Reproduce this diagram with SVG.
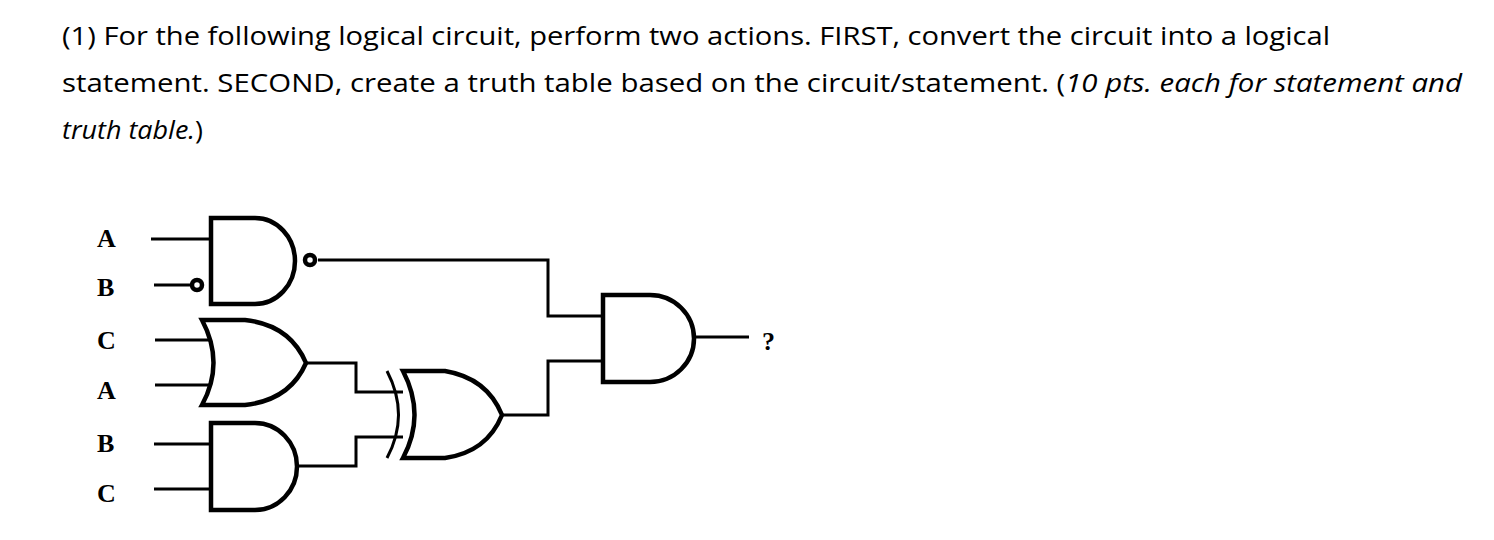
<svg xmlns="http://www.w3.org/2000/svg" width="1494" height="540" viewBox="0 0 1494 540">
<style>
.t{font-family:"Open Sans","Liberation Sans",sans-serif;font-size:25px;fill:#000}
.l{font-family:"Liberation Serif",serif;font-weight:bold;font-size:26px;fill:#000}
.g{fill:#fff;stroke:#000;stroke-width:4.5}
.w{fill:none;stroke:#000;stroke-width:3}
</style>
<rect width="1494" height="540" fill="#fff"/>
<text class="t" x="62" y="45" textLength="1268" lengthAdjust="spacingAndGlyphs">(1) For the following logical circuit, perform two actions. FIRST, convert the circuit into a logical</text>
<text class="t" x="62" y="92" textLength="1400" lengthAdjust="spacingAndGlyphs">statement. SECOND, create a truth table based on the circuit/statement. (<tspan font-style="italic">10 pts. each for statement and</tspan></text>
<text class="t" x="62" y="139" textLength="141" lengthAdjust="spacingAndGlyphs"><tspan font-style="italic">truth table.</tspan>)</text>
<g id="labels">
<text class="l" x="97" y="247">A</text>
<text class="l" x="97" y="296">B</text>
<text class="l" x="97" y="349">C</text>
<text class="l" x="97" y="399">A</text>
<text class="l" x="97" y="452">B</text>
<text class="l" x="97" y="502">C</text>
<text class="l" x="762" y="350">?</text>
</g>
<g id="connectors">
<path class="w" d="M151 239H211M154 285H192M318 260H548V316H603M306 363H356V392H403M297 466H356V437H403M502 415H548V361H603M694 337H749M155 340H215M155 385H215M154 444H211M154 489H211"/>
</g>
<g id="nand">
<path class="g" d="M211 218H255A40 43 0 0 1 255 304H211Z"/>
<circle class="g" cx="310" cy="260" r="5" stroke-width="3.5"/>
<circle class="g" cx="197" cy="285" r="5" stroke-width="3.5"/>
</g>
<g id="or">
<path class="g" d="M202 320H245Q290 325 306 363Q290 400 245 405H202Q225 363 202 320Z"/>
</g>
<g id="and1">
<path class="g" d="M211 423H255A42 43.5 0 0 1 255 510H211Z"/>
</g>
<g id="xor">
<path class="g" d="M403 371H445Q487 378 502 415Q487 452 445 458H403Q426 415 403 371Z"/>
<path class="w" stroke-width="4.5" d="M387 371Q410 415 387 458"/>
</g>
<g id="and2">
<path class="g" d="M603 295H650A44 43.5 0 0 1 650 382H603Z"/>
</g>
</svg>
